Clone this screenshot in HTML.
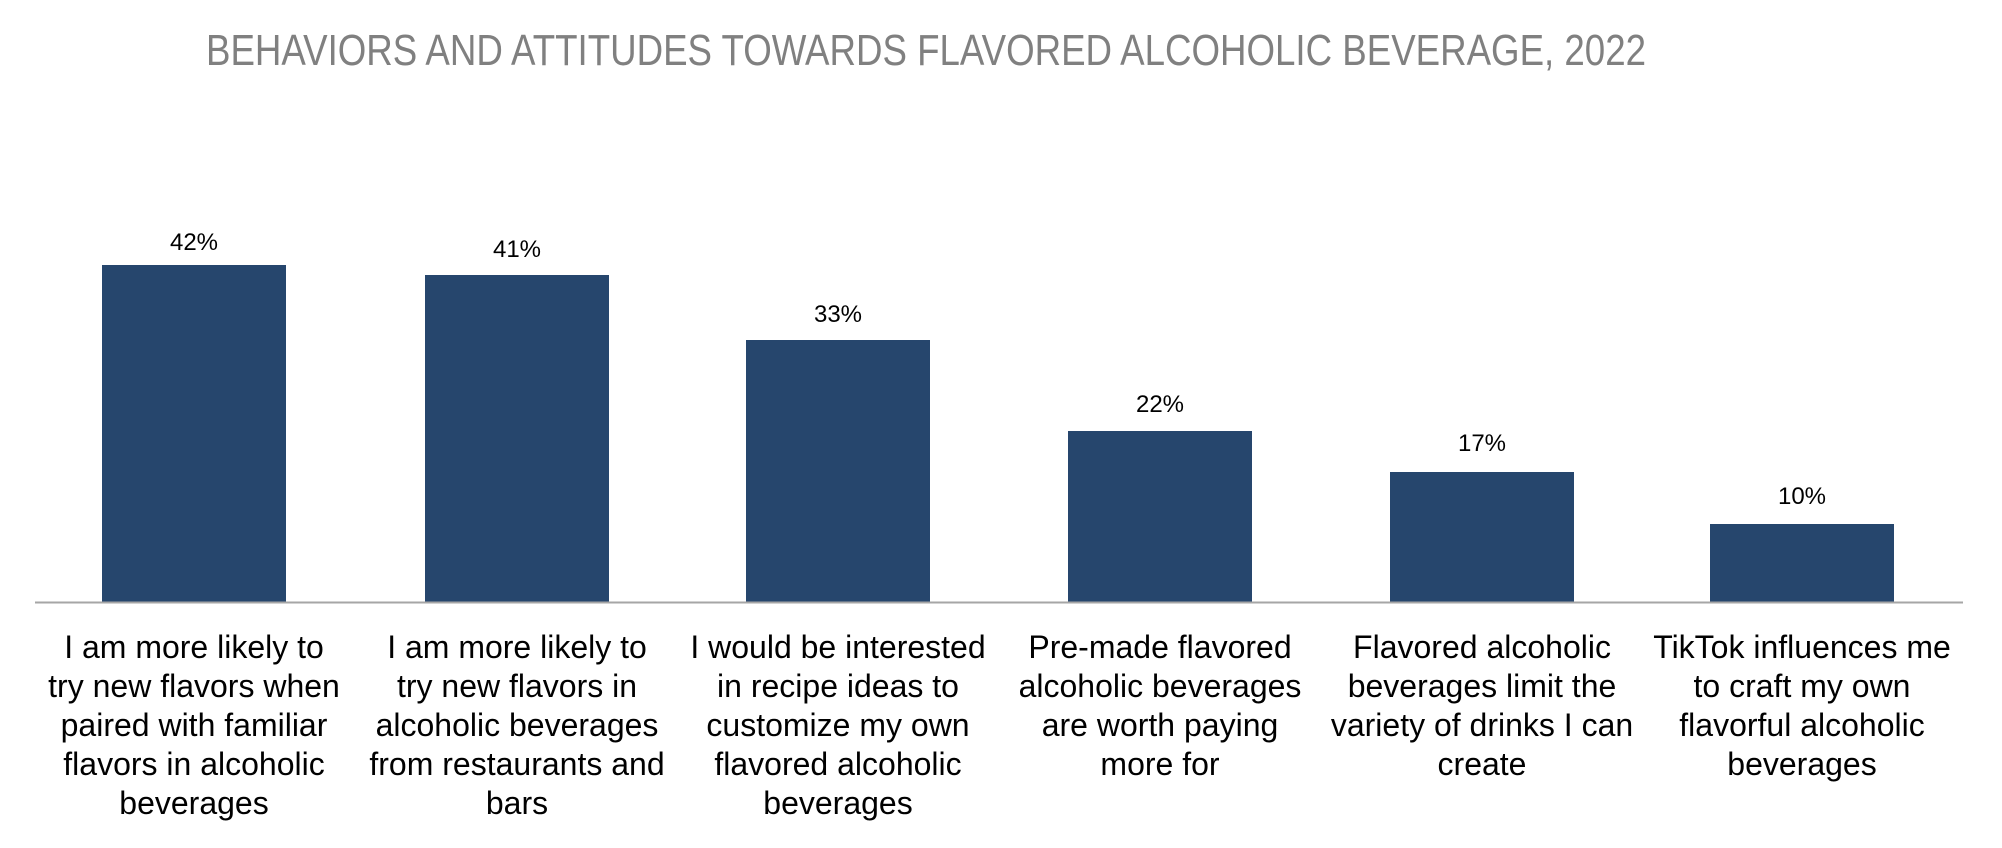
<!DOCTYPE html>
<html><head><meta charset="utf-8"><style>
html,body{margin:0;padding:0;background:#fff;}
svg{display:block;}
text{font-family:"Liberation Sans",sans-serif;}
</style></head><body>
<svg width="2002" height="848" viewBox="0 0 2002 848">
<text x="206" y="65" font-size="44" fill="#808080" textLength="1440" lengthAdjust="spacingAndGlyphs">BEHAVIORS AND ATTITUDES TOWARDS FLAVORED ALCOHOLIC BEVERAGE, 2022</text>
<g fill="#26466d">
<rect x="102" y="265" width="184" height="337"/>
<rect x="425" y="275" width="184" height="327"/>
<rect x="746" y="340" width="184" height="262"/>
<rect x="1068" y="431" width="184" height="171"/>
<rect x="1390" y="472" width="184" height="130"/>
<rect x="1710" y="524" width="184" height="78"/>
</g>
<line x1="35" y1="602.5" x2="1963" y2="602.5" stroke="#a6a6a6" stroke-width="2"/>
<g font-size="24" fill="#000" text-anchor="middle">
<text x="194" y="250">42%</text>
<text x="517" y="257">41%</text>
<text x="838" y="322">33%</text>
<text x="1160" y="412">22%</text>
<text x="1482" y="451">17%</text>
<text x="1802" y="504">10%</text>
</g>
<g font-size="32" fill="#000" text-anchor="middle">
<text x="194" y="658">I am more likely to</text>
<text x="194" y="697">try new flavors when</text>
<text x="194" y="736">paired with familiar</text>
<text x="194" y="775">flavors in alcoholic</text>
<text x="194" y="814">beverages</text>
<text x="517" y="658">I am more likely to</text>
<text x="517" y="697">try new flavors in</text>
<text x="517" y="736">alcoholic beverages</text>
<text x="517" y="775">from restaurants and</text>
<text x="517" y="814">bars</text>
<text x="838" y="658">I would be interested</text>
<text x="838" y="697">in recipe ideas to</text>
<text x="838" y="736">customize my own</text>
<text x="838" y="775">flavored alcoholic</text>
<text x="838" y="814">beverages</text>
<text x="1160" y="658">Pre-made flavored</text>
<text x="1160" y="697">alcoholic beverages</text>
<text x="1160" y="736">are worth paying</text>
<text x="1160" y="775">more for</text>
<text x="1482" y="658">Flavored alcoholic</text>
<text x="1482" y="697">beverages limit the</text>
<text x="1482" y="736">variety of drinks I can</text>
<text x="1482" y="775">create</text>
<text x="1802" y="658">TikTok influences me</text>
<text x="1802" y="697">to craft my own</text>
<text x="1802" y="736">flavorful alcoholic</text>
<text x="1802" y="775">beverages</text>
</g>
</svg>
</body></html>
